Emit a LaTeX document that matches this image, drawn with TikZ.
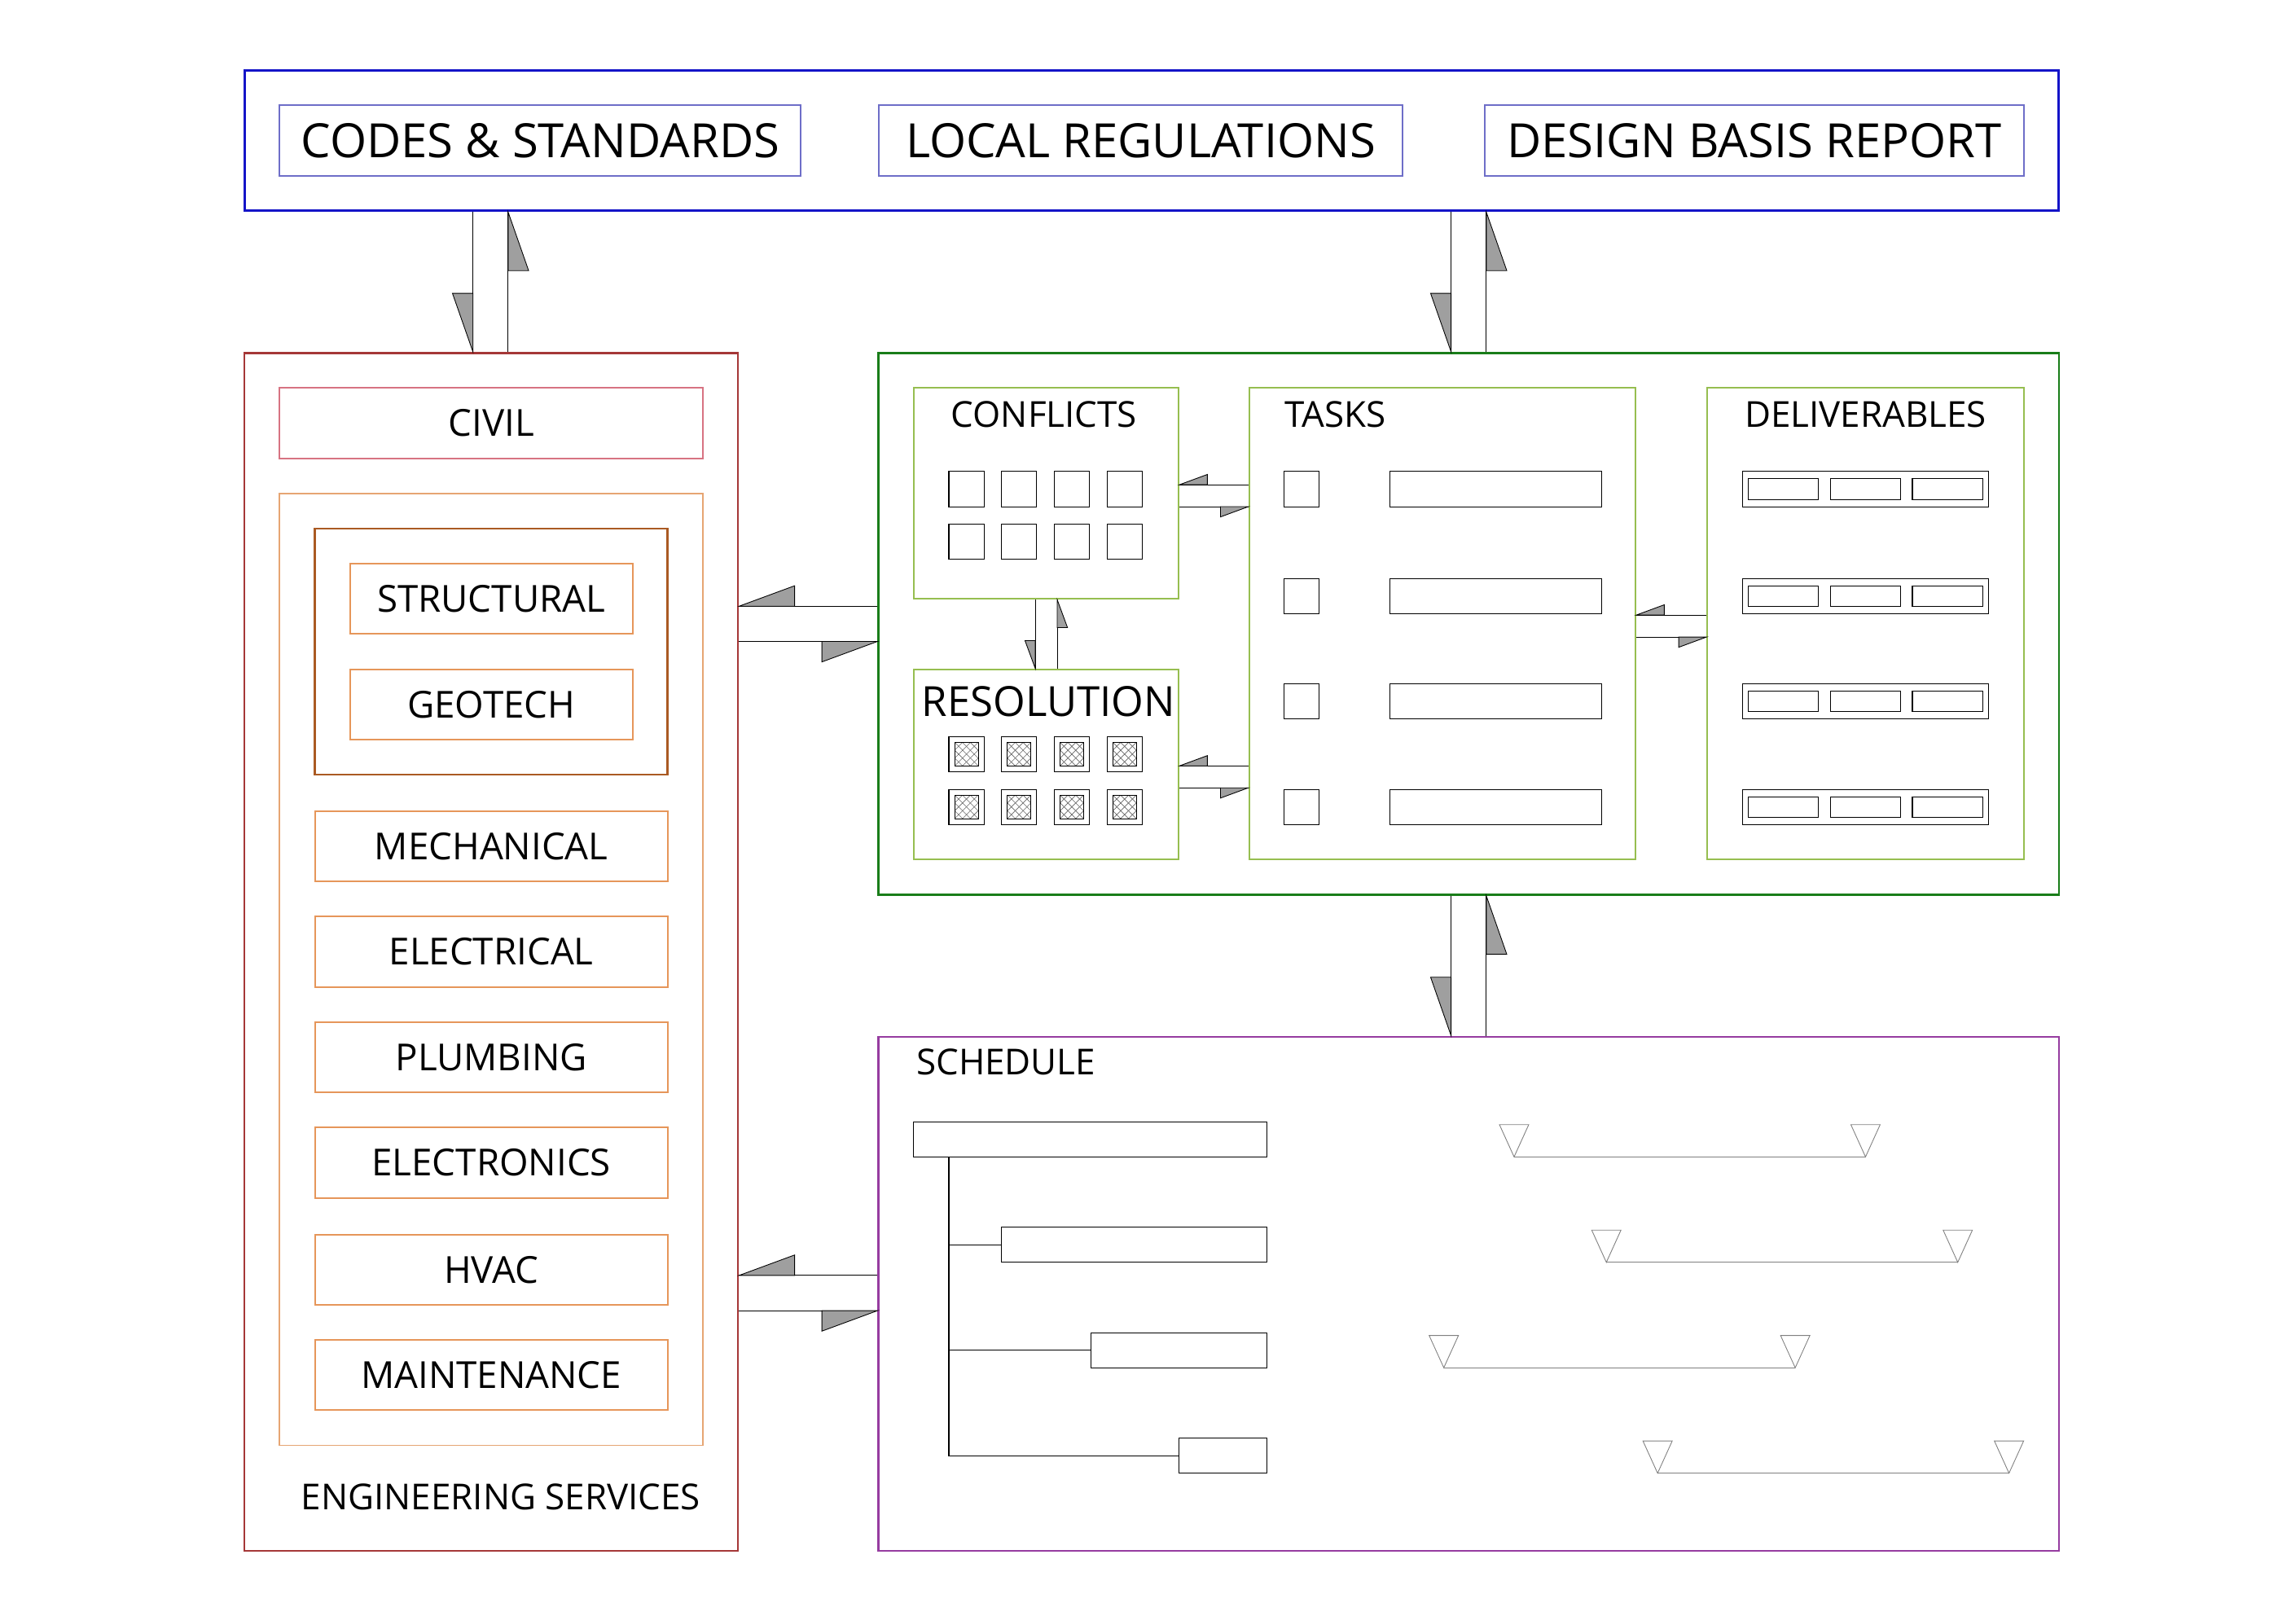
\documentclass[tikz,border=0pt]{standalone}
\usepackage{fontspec}
\setmainfont{Open Sans}
\usetikzlibrary{fit,calc}
\definecolor{cblue}{RGB}{20,20,200}
\definecolor{cblueL}{RGB}{110,110,200}
\definecolor{cred}{RGB}{165,55,55}
\definecolor{cpink}{RGB}{215,115,130}
\definecolor{corange}{RGB}{230,165,115}
\definecolor{cbrown}{RGB}{170,90,35}
\definecolor{corg2}{RGB}{230,150,90}
\definecolor{cgreen}{RGB}{25,125,25}
\definecolor{clgreen}{RGB}{150,190,80}
\definecolor{cpurple}{RGB}{150,60,160}
\begin{document}
\begin{tikzpicture}[x=0.03596cm,y=-0.03596cm,
  bx/.style={draw,inner sep=0pt,line width=1.1pt},
  thin box/.style={draw,line width=0.6pt},
  conn/.style={line width=0.6pt},
  tipb/.style={draw,line width=0.5pt,fill=gray!75},
  gt/.style={draw=gray,line width=0.5pt},
  big/.style={font=\fontsize{33}{33}\selectfont},
  mid/.style={font=\fontsize{26}{26}\selectfont},
  sm/.style={font=\fontsize{25}{25}\selectfont}]
\useasboundingbox (0,0) rectangle (1568,1103);
% top
\node[bx,draw=cblue,line width=1.6pt,fit={(167,48)(1406,144)}] (top) {};
\node[bx,draw=cblueL,fit={(191,72)(547,120)}] (codes) {};
\node[bx,draw=cblueL,fit={(600,72)(958,120)}] (local) {};
\node[bx,draw=cblueL,fit={(1014,72)(1382,120)}] (dbr) {};
\node[big] (codest) at (codes.center) {CODES \& STANDARDS};
\node[big] (localt) at (local.center) {LOCAL REGULATIONS};
\node[big] (dbrt) at (dbr.center) {DESIGN BASIS REPORT};
% engineering
\node[bx,draw=cred,line width=1.4pt,fit={(167,241)(504,1059)}] (eng) {};
\node[bx,draw=cpink,fit={(191,265)(480,313)}] (civil) {};
\node[mid] (civilt) at (civil.center) {CIVIL};
\node[bx,draw=corange,fit={(191,337)(480,987)}] (grp) {};
\node[bx,draw=cbrown,line width=1.6pt,fit={(215,361)(456,529)}] (sg) {};
\node[bx,draw=corg2,fit={(239,385)(432,433)}] (struct) {};
\node[bx,draw=corg2,fit={(239,457)(432,505)}] (geo) {};
\node[mid] (structt) at (struct.center) {STRUCTURAL};
\node[mid] (geot) at (geo.center) {GEOTECH};
\foreach \n/\t/\y in {mech/MECHANICAL/554,elec/ELECTRICAL/626,plumb/PLUMBING/698,elx/ELECTRONICS/770,hvac/HVAC/843,maint/MAINTENANCE/915}{
  \node[bx,draw=corg2,fit={(215,\y)(456,\y+48)}] (\n) {};
  \node[mid] (\n t) at (\n.center) {\t};}
\node[sm] (engt) at (342,1022) {ENGINEERING SERVICES};
% green
\node[bx,draw=cgreen,line width=1.4pt,fit={(600,241)(1406,611)}] (green) {};
\node[bx,draw=clgreen,fit={(624,265)(805,409)}] (conf) {};
\node[sm] (conft) at (713,283) {CONFLICTS};
\node[bx,draw=clgreen,fit={(624,457)(805,587)}] (res) {};
\node[font=\fontsize{29}{29}\selectfont] (rest) at (716,479) {RESOLUTION};
\node[bx,draw=clgreen,fit={(853,265)(1117,587)}] (tasks) {};
\node[sm,anchor=west] (taskt) at (874,283) {TASKS};
\node[bx,draw=clgreen,fit={(1166,265)(1382,587)}] (deliv) {};
\node[sm] (delivt) at (1274,283) {DELIVERABLES};
\foreach \x in {648,684,720,756}{
  \foreach \y in {322,358} \draw[thin box] (\x,\y) rectangle +(24,24);
  \foreach \y in {503,539}{
    \draw[thin box] (\x,\y) rectangle +(24,24);
    \begin{scope}
      \clip (\x+4,\y+4) rectangle +(16,16);
      \foreach \d in {-16,-10.7,-5.3,0,5.3,10.7}{
        \draw[line width=0.35pt,gray!80!black] (\x+4+\d,\y+20) -- ++(16,-16);
        \draw[line width=0.35pt,gray!80!black] (\x+4+\d,\y+4) -- ++(16,16);}
    \end{scope}
    \draw[line width=0.5pt] (\x+4,\y+4) rectangle +(16,16);}}
\foreach \y in {322,395,467,539}{
  \draw[thin box] (877,\y) rectangle +(24,24);
  \draw[thin box] (949,\y) rectangle (1094,\y+24);
  \draw[thin box] (1190,\y) rectangle (1358,\y+24);
  \foreach \x in {1194,1250,1306} \draw[thin box] (\x,\y+5) rectangle +(48,14);}
% schedule
\node[bx,draw=cpurple,line width=1.4pt,fit={(600,708)(1406,1059)}] (sch) {};
\node[sm] (scht) at (687,725) {SCHEDULE};
\node[bx,line width=0.6pt,fit={(624,766)(865,790)}] (b1) {};
\node[bx,line width=0.6pt,fit={(684,838)(865,862)}] (b2) {};
\node[bx,line width=0.6pt,fit={(745,910)(865,934)}] (b3) {};
\node[bx,line width=0.6pt,fit={(805,982)(865,1006)}] (b4) {};
\draw[conn] (b1.south -| 648,0) |- (b4.west);
\draw[conn] (648,850) -- (b2.west);
\draw[conn] (648,922) -- (b3.west);
\foreach \a/\y in {1034/790,1097/862,986/934,1132/1006}{
  \draw[gt] (\a,\y) -- (\a+240,\y);
  \foreach \t in {\a,\a+240}
    \draw[gt] (\t,\y) -- (\t-10,\y-22) -- (\t+10,\y-22) -- cycle;}
% vertical connector pairs (big)
\foreach \x/\A/\B in {323/top/eng,991/top/green,991/green/sch}{
  \draw[conn] (\A.south -| \x,0) -- (\B.north -| \x,0);
  \draw[conn] (\A.south -| \x+24,0) -- (\B.north -| \x+24,0);
  \draw[tipb] (\B.north -| \x,0) -- ++(0,-40) -- ++(-14,0) -- cycle;
  \draw[tipb] (\A.south -| \x+24,0) -- ++(0,40) -- ++(14,0) -- cycle;}
% horizontal big
\foreach \y in {414,871}{
  \draw[conn] (eng.east |- 0,\y) -- (green.west |- 0,\y);
  \draw[conn] (eng.east |- 0,\y+24) -- (green.west |- 0,\y+24);
  \draw[tipb] (eng.east |- 0,\y) -- ++(38,0) -- ++(0,-14) -- cycle;
  \draw[tipb] (green.west |- 0,\y+24) -- ++(-38,0) -- ++(0,14) -- cycle;}
% small horizontal
\foreach \A/\B/\y in {conf/tasks/331,res/tasks/523,tasks/deliv/420}{
  \draw[conn] (\A.east |- 0,\y) -- (\B.west |- 0,\y);
  \draw[conn] (\A.east |- 0,\y+15) -- (\B.west |- 0,\y+15);
  \draw[tipb] (\A.east |- 0,\y) -- ++(19,0) -- ++(0,-7) -- cycle;
  \draw[tipb] (\B.west |- 0,\y+15) -- ++(-19,0) -- ++(0,7) -- cycle;}
% small vertical
\draw[conn] (conf.south -| 707,0) -- (res.north -| 707,0);
\draw[conn] (conf.south -| 722,0) -- (res.north -| 722,0);
\draw[tipb] (res.north -| 707,0) -- ++(0,-19) -- ++(-7,0) -- cycle;
\draw[tipb] (conf.south -| 722,0) -- ++(0,19) -- ++(7,0) -- cycle;
\end{tikzpicture}
\end{document}
